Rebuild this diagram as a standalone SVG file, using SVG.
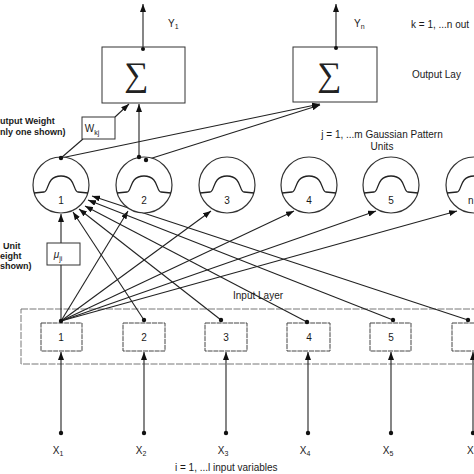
<svg xmlns="http://www.w3.org/2000/svg" width="474" height="474" viewBox="0 0 474 474">
<style>
.t{font-family:"Liberation Sans",Arial,sans-serif;font-size:10px;fill:#1a1a1a}
.b{font-weight:bold;font-size:9px}
.sub{font-size:7px}
.ln{stroke:#222;stroke-width:1.1;fill:none}
.box{fill:#fff;stroke:#333;stroke-width:1}
.ibox{fill:#fff;stroke:#444;stroke-width:1;stroke-dasharray:5 0.8}
.cir{fill:#fff;stroke:#333;stroke-width:1.2}
.g{fill:none;stroke:#222;stroke-width:1.3}
.sig{font-family:"Liberation Serif","DejaVu Serif",serif;font-size:34px;fill:#222}
.dot{fill:#111}
</style>
<defs>
<marker id="ah" markerUnits="userSpaceOnUse" markerWidth="8" markerHeight="6" refX="8" refY="3" orient="auto">
<path d="M0,0 L8,3 L0,6 z" fill="#111"/>
</marker>
</defs>
<rect width="474" height="474" fill="#fff"/>

<g id="input-layer">
<rect x="21" y="309" width="470" height="55" fill="none" stroke="#777" stroke-width="1" stroke-dasharray="7 1.5"/>
<text class="t" x="233" y="299">Input Layer</text>
</g>

<g id="connectors">
<line class="ln" x1="143" y1="49" x2="143" y2="4" marker-end="url(#ah)"/>
<line class="ln" x1="336" y1="48" x2="336" y2="4" marker-end="url(#ah)"/>
<line class="ln" x1="61" y1="158" x2="83" y2="139"/>
<line class="ln" x1="115" y1="117" x2="129" y2="104" marker-end="url(#ah)"/>
<line class="ln" x1="139" y1="157" x2="139" y2="104" marker-end="url(#ah)"/>
<line class="ln" x1="61" y1="158" x2="320" y2="104" marker-end="url(#ah)"/>
<line class="ln" x1="146" y1="160" x2="320" y2="105" marker-end="url(#ah)"/>
<line class="ln" x1="61" y1="321" x2="61" y2="265"/>
<line class="ln" x1="61" y1="243" x2="61" y2="214" marker-end="url(#ah)"/>
<line class="ln" x1="61" y1="321" x2="128" y2="211" marker-end="url(#ah)"/>
<line class="ln" x1="61" y1="321" x2="211" y2="211" marker-end="url(#ah)"/>
<line class="ln" x1="61" y1="321" x2="294" y2="211" marker-end="url(#ah)"/>
<line class="ln" x1="61" y1="321" x2="376" y2="211" marker-end="url(#ah)"/>
<line class="ln" x1="61" y1="321" x2="457" y2="211" marker-end="url(#ah)"/>
<line class="ln" x1="144" y1="320" x2="73" y2="212" marker-end="url(#ah)"/>
<line class="ln" x1="221" y1="320" x2="79" y2="209" marker-end="url(#ah)"/>
<line class="ln" x1="307" y1="322" x2="85" y2="206" marker-end="url(#ah)"/>
<line class="ln" x1="393" y1="320" x2="88" y2="200" marker-end="url(#ah)"/>
<line class="ln" x1="468" y1="320" x2="92" y2="196" marker-end="url(#ah)"/>
<line class="ln" x1="61" y1="433" x2="61" y2="352" marker-end="url(#ah)"/>
<line class="ln" x1="144" y1="433" x2="144" y2="352" marker-end="url(#ah)"/>
<line class="ln" x1="226" y1="433" x2="226" y2="352" marker-end="url(#ah)"/>
<line class="ln" x1="308" y1="433" x2="308" y2="352" marker-end="url(#ah)"/>
<line class="ln" x1="391" y1="433" x2="391" y2="352" marker-end="url(#ah)"/>
<line class="ln" x1="473" y1="433" x2="473" y2="352" marker-end="url(#ah)"/>
</g>

<g id="out1">
<rect class="box" x="102" y="47" width="83" height="56"/>
<text class="sig" x="136" y="86" text-anchor="middle">∑</text>
<circle class="dot" cx="143" cy="49" r="2"/>
<text class="t" x="168" y="27">Y<tspan class="sub" dy="2">1</tspan></text>
</g>
<g id="outn">
<rect class="box" x="293" y="47" width="84" height="55"/>
<text class="sig" x="329" y="86" text-anchor="middle">∑</text>
<circle class="dot" cx="336" cy="48" r="2"/>
<text class="t" x="354" y="27">Y<tspan class="sub" dy="2">n</tspan></text>
</g>
<g id="labels-right">
<text class="t" x="411" y="28">k = 1, ...n out</text>
<text class="t" x="412" y="78">Output Lay</text>
<text class="t" x="382" y="138" text-anchor="middle">j = 1, ...m Gaussian Pattern</text>
<text class="t" x="382" y="150" text-anchor="middle">Units</text>
</g>

<g id="w-kj">
<rect class="box" x="82" y="117" width="33" height="22"/>
<text class="t" x="92" y="132" text-anchor="middle">W<tspan class="sub" dy="3">kj</tspan></text>
<text class="t b" x="0" y="124">utput Weight</text>
<text class="t b" x="0" y="135">nly one shown)</text>
</g>

<g id="p1"><circle class="cir" cx="61" cy="185" r="28"/><path class="g" d="M34,193 L44,192 C49,192 46,176 61,176 C76,176 73,192 78,192 L88,193"/><text class="t" x="61" y="204" text-anchor="middle">1</text><circle class="dot" cx="61" cy="158" r="2.2"/></g>
<g id="p2"><circle class="cir" cx="144" cy="185" r="28"/><path class="g" d="M117,193 L127,192 C132,192 129,176 144,176 C159,176 156,192 161,192 L171,193"/><text class="t" x="144" y="204" text-anchor="middle">2</text><circle class="dot" cx="139" cy="157" r="2.2"/><circle class="dot" cx="146" cy="160" r="2.2"/></g>
<g id="p3"><circle class="cir" cx="227" cy="185" r="28"/><path class="g" d="M200,193 L210,192 C215,192 212,176 227,176 C242,176 239,192 244,192 L254,193"/><text class="t" x="227" y="204" text-anchor="middle">3</text></g>
<g id="p4"><circle class="cir" cx="309" cy="185" r="28"/><path class="g" d="M282,193 L292,192 C297,192 294,176 309,176 C324,176 321,192 326,192 L336,193"/><text class="t" x="309" y="204" text-anchor="middle">4</text></g>
<g id="p5"><circle class="cir" cx="391" cy="185" r="28"/><path class="g" d="M364,193 L374,192 C379,192 376,176 391,176 C406,176 403,192 408,192 L418,193"/><text class="t" x="391" y="204" text-anchor="middle">5</text></g>
<g id="pm"><circle class="cir" cx="474" cy="185" r="28"/><path class="g" d="M447,193 L457,192 C462,192 459,176 474,176 C489,176 486,192 491,192 L501,193"/><text class="t" x="468" y="204">n</text></g>

<g id="mu-ji">
<rect class="box" x="47" y="243" width="33" height="22"/>
<text class="t" x="58" y="258" text-anchor="middle" font-style="italic" font-size="11">μ<tspan class="sub" font-style="normal" dy="3">ji</tspan></text>
<text class="t b" x="3" y="249">Unit</text>
<text class="t b" x="0" y="259">eight</text>
<text class="t b" x="0" y="269">shown)</text>
</g>

<g id="i1"><rect class="ibox" x="41" y="323" width="41" height="28"/><text class="t" x="61" y="341" text-anchor="middle">1</text><circle class="dot" cx="61" cy="321" r="2.2"/></g>
<g id="i2"><rect class="ibox" x="123" y="323" width="42" height="28"/><text class="t" x="144" y="341" text-anchor="middle">2</text><circle class="dot" cx="144" cy="320" r="2.2"/></g>
<g id="i3"><rect class="ibox" x="205" y="323" width="42" height="28"/><text class="t" x="226" y="341" text-anchor="middle">3</text><circle class="dot" cx="221" cy="320" r="2.2"/></g>
<g id="i4"><rect class="ibox" x="287" y="323" width="43" height="28"/><text class="t" x="309" y="341" text-anchor="middle">4</text><circle class="dot" cx="307" cy="322" r="2.2"/></g>
<g id="i5"><rect class="ibox" x="370" y="323" width="41" height="28"/><text class="t" x="391" y="341" text-anchor="middle">5</text><circle class="dot" cx="393" cy="320" r="2.2"/></g>
<g id="i6"><rect class="ibox" x="452" y="323" width="42" height="28"/><circle class="dot" cx="468" cy="320" r="2.2"/></g>

<g id="x1"><circle class="dot" cx="61" cy="433" r="2.2"/><text class="t" x="58" y="454" text-anchor="middle">X<tspan class="sub" dy="2">1</tspan></text></g>
<g id="x2"><circle class="dot" cx="144" cy="433" r="2.2"/><text class="t" x="141" y="454" text-anchor="middle">X<tspan class="sub" dy="2">2</tspan></text></g>
<g id="x3"><circle class="dot" cx="226" cy="433" r="2.2"/><text class="t" x="223" y="454" text-anchor="middle">X<tspan class="sub" dy="2">3</tspan></text></g>
<g id="x4"><circle class="dot" cx="308" cy="433" r="2.2"/><text class="t" x="305" y="454" text-anchor="middle">X<tspan class="sub" dy="2">4</tspan></text></g>
<g id="x5"><circle class="dot" cx="391" cy="433" r="2.2"/><text class="t" x="388" y="454" text-anchor="middle">X<tspan class="sub" dy="2">5</tspan></text></g>
<g id="x6"><circle class="dot" cx="473" cy="433" r="2.2"/><text class="t" x="467" y="454">X</text></g>
<text class="t" x="175" y="471">i = 1, ...l input variables</text>
</svg>
